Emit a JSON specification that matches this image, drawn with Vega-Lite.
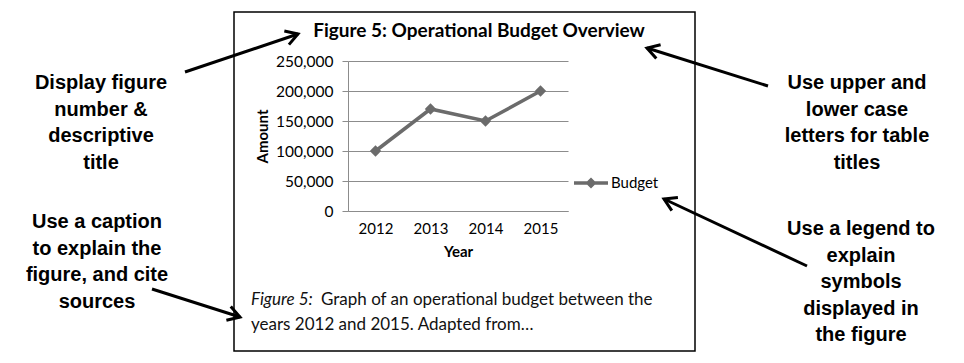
{
  "$schema": "https://vega.github.io/schema/vega-lite/v6.json",
  "width": 220,
  "height": 150,
  "autosize": {"type": "none"},
  "padding": {"left": 348, "top": 61, "right": 396, "bottom": 152},
  "background": "white",
  "title": {"text": "Figure 5:  Operational Budget Overview", "font": "Lato", "fontSize": 19, "fontWeight": "bold", "color": "#000000", "anchor": "middle", "frame": "group", "dx": 21, "baseline": "alphabetic", "offset": 0, "dy": 45},
  "config": {"view": {"stroke": null}},
  "datasets": {
    "budget": [
      {"year": "2012", "amount": 100000, "series": "Budget"},
      {"year": "2013", "amount": 170000, "series": "Budget"},
      {"year": "2014", "amount": 150000, "series": "Budget"},
      {"year": "2015", "amount": 200000, "series": "Budget"}
    ],
    "notes": [
      {"px": 101, "py": 83, "text": "Display figure\nnumber &\ndescriptive\ntitle"},
      {"px": 97, "py": 222, "text": "Use a caption\nto explain the\nfigure, and cite\nsources"},
      {"px": 857, "py": 83, "text": "Use upper and\nlower case\nletters for table\ntitles"},
      {"px": 861, "py": 229, "text": "Use a legend to\nexplain\nsymbols\ndisplayed in\nthe figure"}
    ],
    "arrows": [
      {"px": 185, "py": 72, "px2": 298, "py2": 34, "angle": 341.4},
      {"px": 152, "py": 289, "px2": 240, "py2": 317, "angle": 17.6},
      {"px": 768, "py": 86, "px2": 647, "py2": 48, "angle": 197.4},
      {"px": 807, "py": 266, "px2": 664, "py2": 199, "angle": 205.1}
    ],
    "captionItalic": [
      {"px": 251, "py": 300, "text": "Figure 5:"}
    ],
    "caption": [
      {"px": 321, "py": 300, "text": "Graph of an operational budget between the"},
      {"px": 251, "py": 325, "text": "years 2012 and 2015. Adapted from…"}
    ],
    "frame": [
      {"px": 234, "py": 12, "px2": 695, "py2": 351}
    ]
  },
  "layer": [
    {
      "data": {"name": "budget"},
      "encoding": {
        "x": {
          "field": "year", "type": "ordinal",
          "scale": {"type": "point", "padding": 0.5},
          "axis": {"title": "Year", "labelAngle": 0, "grid": false, "ticks": false, "domainColor": "#8c8c8c", "labelFont": "Lato", "labelFontSize": 15, "labelColor": "#000000", "labelPadding": 10, "titleFont": "Lato", "titleFontSize": 15, "titleFontWeight": "bold", "titleColor": "#000000", "titlePadding": 8}
        },
        "y": {
          "field": "amount", "type": "quantitative",
          "scale": {"domain": [0, 250000], "nice": false},
          "axis": {"title": "Amount", "values": [0, 50000, 100000, 150000, 200000, 250000], "format": ",.0f", "grid": true, "gridColor": "#8c8c8c", "domainColor": "#8c8c8c", "tickColor": "#8c8c8c", "tickSize": 6, "labelFont": "Lato", "labelFontSize": 15.5, "labelColor": "#000000", "labelPadding": 9, "titleFont": "Lato", "titleFontSize": 15, "titleFontWeight": "bold", "titleColor": "#000000", "titlePadding": 5}
        }
      },
      "layer": [
        {
          "mark": {"type": "line", "strokeWidth": 3.5},
          "encoding": {
            "color": {
              "field": "series", "type": "nominal",
              "scale": {"range": ["#6b6b6b"]},
              "legend": {
                "orient": "none", "legendX": 224, "legendY": 103, "title": null, "padding": 0,
                "symbolType": "M-1,0L1,0M-0.18,0L0,-0.18L0.18,0L0,0.18Z",
                "symbolSize": 1156, "symbolStrokeWidth": 3.5,
                "labelFont": "Lato", "labelFontSize": 15, "labelColor": "#000000", "labelOffset": 1,
                "encode": {"symbols": {"update": {"fill": {"value": "#6b6b6b"}, "stroke": {"value": "#6b6b6b"}}}}
              }
            }
          }
        },
        {
          "mark": {"type": "point", "shape": "diamond", "filled": true, "size": 130, "opacity": 1, "color": "#6b6b6b"}
        }
      ]
    },
    {
      "layer": [
        {
          "data": {"name": "frame"},
          "mark": {"type": "rect", "fill": "transparent", "stroke": "#000000", "strokeWidth": 1.5},
          "encoding": {
            "x": {"field": "px", "type": "quantitative", "scale": {"domain": [348, 568], "nice": false, "zero": false}, "axis": null},
            "x2": {"field": "px2"},
            "y": {"field": "py", "type": "quantitative", "scale": {"domain": [61, 211], "nice": false, "zero": false, "reverse": true}, "axis": null},
            "y2": {"field": "py2"}
          }
        },
        {
          "data": {"name": "notes"},
          "mark": {"type": "text", "font": "Liberation Sans", "fontSize": 20, "fontWeight": "bold", "color": "#000000", "align": "center", "baseline": "middle", "lineBreak": "\n", "lineHeight": 26.5},
          "encoding": {
            "x": {"field": "px", "type": "quantitative", "scale": {"domain": [348, 568], "nice": false, "zero": false}, "axis": null},
            "y": {"field": "py", "type": "quantitative", "scale": {"domain": [61, 211], "nice": false, "zero": false, "reverse": true}, "axis": null},
            "text": {"field": "text"}
          }
        },
        {
          "data": {"name": "captionItalic"},
          "mark": {"type": "text", "font": "Lato", "fontSize": 17, "fontStyle": "italic", "color": "#111111", "align": "left", "baseline": "middle"},
          "encoding": {
            "x": {"field": "px", "type": "quantitative", "scale": {"domain": [348, 568], "nice": false, "zero": false}, "axis": null},
            "y": {"field": "py", "type": "quantitative", "scale": {"domain": [61, 211], "nice": false, "zero": false, "reverse": true}, "axis": null},
            "text": {"field": "text"}
          }
        },
        {
          "data": {"name": "caption"},
          "mark": {"type": "text", "font": "Lato", "fontSize": 17, "color": "#111111", "align": "left", "baseline": "middle"},
          "encoding": {
            "x": {"field": "px", "type": "quantitative", "scale": {"domain": [348, 568], "nice": false, "zero": false}, "axis": null},
            "y": {"field": "py", "type": "quantitative", "scale": {"domain": [61, 211], "nice": false, "zero": false, "reverse": true}, "axis": null},
            "text": {"field": "text"}
          }
        },
        {
          "data": {"name": "arrows"},
          "mark": {"type": "rule", "stroke": "#000000", "strokeWidth": 3},
          "encoding": {
            "x": {"field": "px", "type": "quantitative", "scale": {"domain": [348, 568], "nice": false, "zero": false}, "axis": null},
            "x2": {"field": "px2"},
            "y": {"field": "py", "type": "quantitative", "scale": {"domain": [61, 211], "nice": false, "zero": false, "reverse": true}, "axis": null},
            "y2": {"field": "py2"}
          }
        },
        {
          "data": {"name": "arrows"},
          "mark": {"type": "point", "shape": "M-1,-0.6L0,0L-1,0.6", "filled": false, "stroke": "#000000", "strokeWidth": 3, "size": 576, "opacity": 1, "strokeJoin": "miter"},
          "encoding": {
            "x": {"field": "px2", "type": "quantitative", "scale": {"domain": [348, 568], "nice": false, "zero": false}, "axis": null},
            "y": {"field": "py2", "type": "quantitative", "scale": {"domain": [61, 211], "nice": false, "zero": false, "reverse": true}, "axis": null},
            "angle": {"field": "angle", "type": "quantitative", "scale": null}
          }
        }
      ]
    }
  ],
  "resolve": {"scale": {"x": "independent", "y": "independent", "color": "independent"}}
}
